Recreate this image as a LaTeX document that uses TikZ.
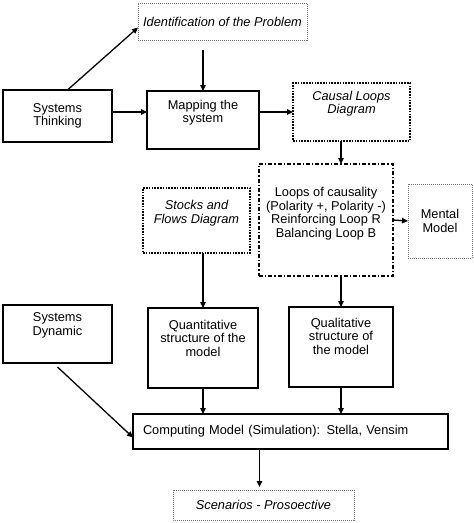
\documentclass[tikz,border=0pt]{standalone}
\usepackage{fontspec}
\setmainfont{Liberation Sans}
\usepackage{tikz}
\usetikzlibrary{arrows.meta,positioning,calc}

\begin{document}
\begin{tikzpicture}[x=1pt, y=-1pt, >={Triangle[length=6pt,width=5.5pt]},
  box/.style={draw, line width=1.7pt, inner sep=2pt, outer sep=0pt, align=center,
              anchor=north west, font=\fontsize{12.8}{13.5}\selectfont},
  boldbox/.style={box, line width=2.6pt},
  notebox/.style={box, draw=black!55, line width=1pt, densely dotted, font=\fontsize{12.8}{13.5}\selectfont\itshape},
  dotbox/.style={box, line width=1.7pt, dash pattern=on 1.6pt off 1.2pt, font=\fontsize{12.8}{13.5}\selectfont\itshape},
  loopbox/.style={box, line width=1.7pt, dash pattern=on 4pt off 2pt on 1.4pt off 2pt},
  link/.style={->, line width=1.3pt}]
\useasboundingbox (0,0) rectangle (474,523);

% top row
\node[notebox, minimum width=169pt, minimum height=37pt] (ident) at (138,3) {Identification of the Problem};
\node[box, minimum width=109pt, minimum height=52pt] (think) at (3,90) {Systems\\Thinking};
\node[box, minimum width=112pt, minimum height=58pt] (mapping) at (147,91) {Mapping the\\system\\[4pt]};
\node[dotbox, minimum width=117pt, minimum height=58pt] (causal) at (293,83) {Causal Loops\\Diagram\\[6pt]};

% middle row
\node[dotbox, minimum width=107pt, minimum height=65pt] (stocks) at (143,188) {Stocks and\\Flows Diagram\\[4pt]};
\node[loopbox, minimum width=134pt, minimum height=112pt] (loops) at (259,164)
  {Loops of causality\\(Polarity +, Polarity -)\\Reinforcing Loop R\\Balancing Loop B\\[2pt]};
\node[notebox, font=\fontsize{12.8}{13.5}\selectfont, minimum width=64pt, minimum height=74pt] (mental) at (408,184) {Mental\\Model};

% structures
\node[box, minimum width=109pt, minimum height=58pt] (dynamic) at (3,305) {Systems\\Dynamic\\[6pt]};
\node[boldbox, minimum width=110pt, minimum height=80pt] (quant) at (148,308) {Quantitative\\structure of the\\model\\[6pt]};
\node[boldbox, minimum width=104pt, minimum height=80pt] (qual) at (289,307) {Qualitative\\structure of\\the model\\[8pt]};

% bottom
\node[box, minimum width=315pt, minimum height=35pt, align=left, text width=295pt, inner xsep=9pt] (comp) at (133,414)
  {Computing Model (Simulation): Stella, Vensim};
\node[notebox, minimum width=181pt, minimum height=30pt] (scen) at (173,490) {Scenarios - Prosoective};
\coordinate (scentop) at ($(scen.north)+(-4,-3)$);

% connectors
\draw[link] ($(think.north)+(10,0)$) -- ($(ident.west)+(0,6)$);
\draw[link] ($(mapping.north |- ident.south)+(0,10)$) -- (mapping.north);
\draw[link] (think.east |- causal.west) -- (mapping.west |- causal.west);
\draw[link] (mapping.east |- causal.west) -- (causal.west);
\draw[link] (causal.south -| qual.north) -- (loops.north -| qual.north);
\draw[link] (loops.east) -- (mental.west);
\draw[link] (stocks.south -| quant.north) -- (quant.north);
\draw[link] (loops.south -| qual.north) -- (qual.north);
\draw[link] (quant.south) -- (quant.south |- comp.north);
\draw[link] (qual.south) -- (qual.south |- comp.north);
\draw[link] ($(dynamic.south)+(0,4)$) -- ($(comp.west)+(0,6)$);
\draw[link] (scentop |- comp.south) -- (scentop);
\end{tikzpicture}
\end{document}
